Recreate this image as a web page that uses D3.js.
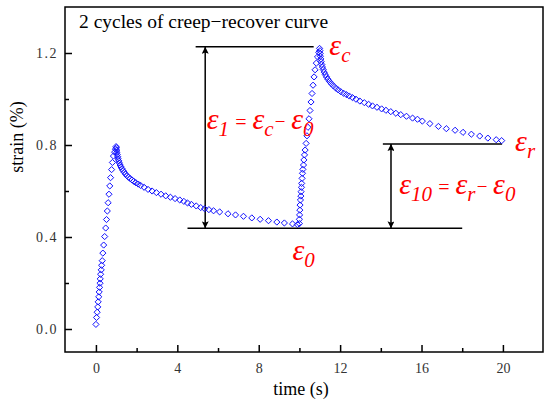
<!DOCTYPE html>
<meta charset="utf-8">
<style>

body {
  margin: 0;
  background: #fff;
}

svg {
  display: block;
}

.tick text {
  font-family: "Liberation Serif", "DejaVu Serif", serif;
  font-size: 14px;
  fill: #333;
}

.y.axis .tick text {
  letter-spacing: 1.5px;
}

.pt {
  fill: none;
  stroke: #0f0fff;
  stroke-width: 1;
}

.guide {
  stroke: #000;
  stroke-width: 1.5px;
  fill: none;
}

.eps {
  font-family: "Liberation Serif", serif;
  font-style: italic;
  fill: #ff0000;
}

</style>
<body>
<script src="https://d3js.org/d3.v7.min.js"></script>
<script>

// [time (s), strain (%)], one array per phase
var creep1 = [[0.00,0.020],[0.03,0.050],[0.06,0.073],[0.09,0.096],[0.11,0.118],[0.14,0.140],[0.16,0.161],[0.18,0.181],[0.20,0.199],[0.21,0.218],[0.23,0.238],[0.26,0.257],[0.28,0.277],[0.31,0.297],[0.34,0.330],[0.38,0.365],[0.43,0.402],[0.48,0.439],[0.52,0.476],[0.56,0.513],[0.60,0.549],[0.64,0.586],[0.68,0.622],[0.72,0.658],[0.77,0.693],[0.81,0.724],[0.86,0.752],[0.92,0.769],[0.96,0.782],[0.99,0.793]];

var recover1 = [[1.01,0.788],[1.02,0.778],[1.03,0.768],[1.05,0.758],[1.07,0.749],[1.09,0.740],[1.12,0.731],[1.15,0.722],[1.19,0.713],[1.23,0.705],[1.28,0.697],[1.33,0.689],[1.39,0.681],[1.45,0.674],[1.52,0.667],[1.60,0.660],[1.68,0.654],[1.77,0.648],[1.86,0.642],[1.96,0.636],[2.08,0.630],[2.20,0.624],[2.37,0.616],[2.56,0.607],[2.76,0.600],[2.97,0.593],[3.20,0.586],[3.43,0.579],[3.66,0.573],[3.89,0.567],[4.12,0.561],[4.32,0.555],[4.50,0.548],[4.69,0.542],[4.93,0.535],[5.15,0.528],[5.34,0.523],[5.55,0.519],[5.78,0.514],[6.08,0.509],[6.49,0.501],[6.86,0.496],[7.25,0.490],[7.66,0.483],[8.07,0.477],[8.48,0.471],[8.89,0.465],[9.26,0.461],[9.66,0.457],[9.90,0.454]];

var creep2 = [[10.00,0.458],[10.00,0.477],[10.01,0.496],[10.02,0.517],[10.03,0.539],[10.05,0.561],[10.07,0.578],[10.08,0.597],[10.10,0.616],[10.11,0.633],[10.13,0.655],[10.15,0.677],[10.17,0.694],[10.20,0.713],[10.22,0.735],[10.25,0.757],[10.28,0.778],[10.33,0.807],[10.37,0.840],[10.42,0.877],[10.47,0.914],[10.52,0.950],[10.57,0.987],[10.62,1.024],[10.67,1.060],[10.72,1.096],[10.77,1.127],[10.83,1.156],[10.89,1.183],[10.95,1.203],[10.99,1.220]];

var recover2 = [[11.01,1.210],[11.02,1.198],[11.03,1.186],[11.05,1.174],[11.07,1.162],[11.10,1.150],[11.13,1.139],[11.17,1.128],[11.22,1.117],[11.27,1.106],[11.33,1.096],[11.40,1.086],[11.48,1.076],[11.57,1.066],[11.67,1.057],[11.78,1.048],[11.90,1.040],[12.03,1.032],[12.17,1.025],[12.31,1.019],[12.45,1.013],[12.61,1.006],[12.78,0.999],[12.97,0.991],[13.19,0.984],[13.40,0.977],[13.59,0.970],[13.81,0.964],[14.04,0.957],[14.25,0.951],[14.49,0.945],[14.74,0.938],[14.98,0.932],[15.26,0.925],[15.56,0.917],[15.80,0.912],[16.04,0.904],[16.41,0.893],[16.83,0.881],[17.22,0.871],[17.65,0.864],[18.04,0.855],[18.45,0.847],[18.86,0.839],[19.26,0.830],[19.67,0.823],[19.94,0.819]];

var xTicks = [0, 4, 8, 12, 16, 20],
    xMinor = [2, 6, 10, 14, 18],
    yTicks = [0.0, 0.4, 0.8, 1.2],
    yMinor = [0.2, 0.6, 1.0];

// guide lines: [t start, t end, strain]
var hLines = [[4.9, 10.7, 1.227], [4.5, 18.0, 0.438], [14.1, 19.96, 0.804]];
// double arrows: [t, strain top, strain bottom]
var arrows = [[5.37, 1.227, 0.438], [14.5, 0.804, 0.438]];

var width = 550,
    height = 407,
    plotL = 65, plotR = 543, plotT = 7, plotB = 352;

var x = d3.scaleLinear().domain([-1.52, 21.97]).range([plotL, plotR]);
var y = d3.scaleLinear().domain([-0.1, 1.4]).range([plotB, plotT]);

var svg = d3.select("body").append("svg")
    .attr("width", width)
    .attr("height", height);

var defs = svg.append("defs");
defs.append("marker")
    .attr("id", "head")
    .attr("viewBox", "0 0 10 10")
    .attr("refX", 10).attr("refY", 5)
    .attr("markerUnits", "userSpaceOnUse")
    .attr("markerWidth", 10).attr("markerHeight", 7)
    .attr("orient", "auto-start-reverse")
  .append("path")
    .attr("d", "M0,0L10,5L0,10L2,5Z")
    .attr("fill", "#000");

// axes, ticks pointing inward
svg.append("g").attr("class", "x axis")
    .attr("transform", "translate(0," + plotB + ")")
    .call(d3.axisBottom(x).tickValues(xTicks).tickSize(-7).tickPadding(11).tickFormat(d3.format("d")))
    .call(g => g.select(".domain").remove());
svg.append("g")
    .attr("transform", "translate(0," + plotB + ")")
    .call(d3.axisBottom(x).tickValues(xMinor).tickSize(-4).tickFormat(""))
    .call(g => g.select(".domain").remove());

svg.append("g").attr("class", "y axis")
    .attr("transform", "translate(" + plotL + ",0)")
    .call(d3.axisLeft(y).tickValues(yTicks).tickSize(-7).tickPadding(7).tickFormat(d3.format(".1f")))
    .call(g => g.select(".domain").remove());
svg.append("g")
    .attr("transform", "translate(" + plotL + ",0)")
    .call(d3.axisLeft(y).tickValues(yMinor).tickSize(-4).tickFormat(""))
    .call(g => g.select(".domain").remove());

svg.selectAll(".tick line").attr("stroke", "#000").attr("stroke-width", 1.5);

svg.append("rect")
    .attr("x", plotL).attr("y", plotT)
    .attr("width", plotR - plotL).attr("height", plotB - plotT)
    .attr("fill", "none").attr("stroke", "#000").attr("stroke-width", 1.5);

// titles
svg.append("text")
    .attr("x", 79).attr("y", 28)
    .style("font-family", "Liberation Serif").style("font-size", "19.5px")
    .text("2 cycles of creep\u2212recover curve");

svg.append("text")
    .attr("x", 301).attr("y", 395)
    .attr("text-anchor", "middle")
    .style("font-family", "Liberation Serif").style("font-size", "18px")
    .text("time (s)");

svg.append("text")
    .attr("transform", "translate(23,137) rotate(-90)")
    .attr("text-anchor", "middle")
    .style("font-family", "Liberation Serif").style("font-size", "18px")
    .text("strain (%)");

// guides
svg.selectAll(".hline").data(hLines).enter().append("line")
    .attr("class", "guide")
    .attr("x1", d => x(d[0])).attr("x2", d => x(d[1]))
    .attr("y1", d => y(d[2])).attr("y2", d => y(d[2]));

svg.selectAll(".arrow").data(arrows).enter().append("line")
    .attr("class", "guide")
    .attr("stroke-width", 1.2)
    .attr("x1", d => x(d[0])).attr("x2", d => x(d[0]))
    .attr("y1", d => y(d[1])).attr("y2", d => y(d[2]))
    .attr("marker-start", "url(#head)")
    .attr("marker-end", "url(#head)");

// hollow diamonds
var diamond = {
  draw: function(ctx, size) {
    var r = Math.sqrt(size / 2);
    ctx.moveTo(0, -r);
    ctx.lineTo(r, 0);
    ctx.lineTo(0, r);
    ctx.lineTo(-r, 0);
    ctx.closePath();
  }
};
var sym = d3.symbol().type(diamond).size(19);

var points = [].concat(creep1, recover1, creep2, recover2);
svg.append("g").selectAll("path").data(points).enter().append("path")
    .attr("class", "pt")
    .attr("transform", d => "translate(" + x(d[0]) + "," + y(d[1]) + ")")
    .attr("d", sym);

// epsilon labels: [t, strain, parts]; part = [text, size, shift]
var epsLabels = [
  [5.44, 0.870, [["\u03b5", 30, 0], ["1", 21, 7], [" = ", 20, 0], ["\u03b5", 30, 0], ["c", 21, 7], ["\u2212 ", 19, -1], ["\u03b5", 30, 0], ["0", 21, 7]]],
  [11.47, 1.191, [["\u03b5", 30, 0], ["c", 21, 7]]],
  [20.60, 0.774, [["\u03b5", 30, 0], ["r", 21, 7]]],
  [14.90, 0.587, [["\u03b5", 30, 0], ["10", 21, 7], [" = ", 20, 0], ["\u03b5", 30, 0], ["r", 21, 7], ["\u2212 ", 19, -1], ["\u03b5", 30, 0], ["0", 21, 7]]],
  [9.66, 0.300, [["\u03b5", 30, 0], ["0", 21, 7]]]
];

epsLabels.forEach(function(l) {
  var t = svg.append("text").attr("class", "eps")
      .attr("x", x(l[0])).attr("y", y(l[1]));
  var prev = 0;
  l[2].forEach(function(p) {
    t.append("tspan")
        .attr("dy", p[2] - prev)
        .style("font-size", p[1] + "px")
        .style("white-space", "pre")
        .text(p[0]);
    prev = p[2];
  });
});

</script>
